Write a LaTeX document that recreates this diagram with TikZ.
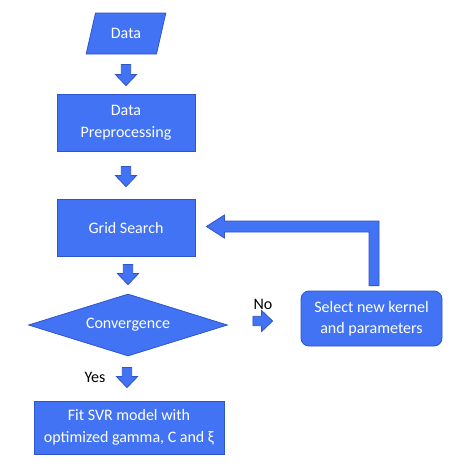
\documentclass[tikz,border=0pt]{standalone}
\usepackage{fontspec}
\setmainfont{Carlito}
\usepackage{tikz}
\usetikzlibrary{shapes.geometric,calc,positioning}
\definecolor{FB}{HTML}{4173F4}
\definecolor{EB}{HTML}{2F55C9}

% block arrow from one named point to another
\newcommand{\blockarrow}[2]{%
  \coordinate (ha) at ($(#2)!11pt!(#1)$);
  \draw[blockarrow] ($(#1)!4.7pt!90:(#2)$) -- ($(ha)!4.7pt!90:(#2)$)
    -- ($(ha)!10.5pt!90:(#2)$) -- (#2) -- ($(ha)!10.5pt!-90:(#2)$)
    -- ($(ha)!4.7pt!-90:(#2)$) -- ($(#1)!4.7pt!-90:(#2)$) -- cycle;}

\tikzset{
  box/.style={draw=EB, fill=FB, text=white, line width=0.8pt,
              align=center, inner sep=2pt},
  blockarrow/.style={draw=EB, fill=FB, line width=0.8pt},
  lbl/.style={text=black, inner sep=0pt}
}

\begin{document}
\begin{tikzpicture}[x=1pt, y=-1pt,
    font=\fontsize{16}{21.5}\selectfont]
  \useasboundingbox[fill=white] (0,0) rectangle (474,475);

  \node[box, trapezium, trapezium left angle=70, trapezium right angle=110,
        trapezium stretches=true, minimum width=80pt, minimum height=41pt]
        (data) at (126,33.5) {Data};
  \node[box, minimum width=138pt, minimum height=57pt]
        (prep) at (126,122.5) {Data\\Preprocessing};
  \node[box, minimum width=138pt, minimum height=57pt]
        (grid) at (126,227.5) {Grid Search};
  \node[box, diamond, aspect=3.2, inner sep=0pt,
        minimum width=199pt, minimum height=62pt]
        (conv) at (128,325) {Convergence};
  \node[box, rounded corners=8pt, minimum width=141pt, minimum height=55pt]
        (select) at (371.5,318.5) {Select new kernel\\and parameters};
  \node[box, minimum width=190pt, minimum height=53pt]
        (fit) at (129,427.5) {Fit SVR model with\\optimized gamma, C and ξ};

  \node[lbl] (no) at (263,304) {No};
  \node[lbl] (yes) at (95,377) {Yes};

  % straight arrows
  \coordinate (a1s) at ($(data.south)+(0,10)$);
  \coordinate (a1e) at ($(prep.north)+(0,-8)$);
  \blockarrow{a1s}{a1e}
  \coordinate (a2s) at ($(prep.south)+(0,15)$);
  \coordinate (a2e) at ($(grid.north)+(0,-12)$);
  \blockarrow{a2s}{a2e}
  \coordinate (a3s) at ($(grid.south)+(2,8)$);
  \coordinate (a3e) at ($(conv.north)+(0,-9)$);
  \blockarrow{a3s}{a3e}
  \coordinate (a4s) at ($(conv.east)+(25,-4)$);
  \coordinate (a4e) at ($(select.west)+(-28,2.5)$);
  \blockarrow{a4s}{a4e}
  \coordinate (a5s) at ($(conv.south)+(-1,11)$);
  \coordinate (a5e) at ($(fit.north)+(-2,-13)$);
  \blockarrow{a5s}{a5e}

  % loop back to grid search
  \coordinate (rs) at ($(select.north)+(2.5,-5)$);
  \coordinate (rc) at ($(rs |- grid.east)+(0,-1)$);
  \coordinate (rt) at ($(grid.east)+(11,-1)$);
  \coordinate (rh) at ($(rt)+(18,0)$);
  \draw[blockarrow] ($(rs)+(-5,0)$) -- ($(rc)+(-5,5.5)$) -- ($(rh)+(0,5.5)$)
    -- ($(rh)+(0,11.5)$) -- (rt) -- ($(rh)+(0,-11.5)$) -- ($(rh)+(0,-5.5)$)
    -- ($(rc)+(5,-5.5)$) -- ($(rs)+(5,0)$) -- cycle;
\end{tikzpicture}
\end{document}
